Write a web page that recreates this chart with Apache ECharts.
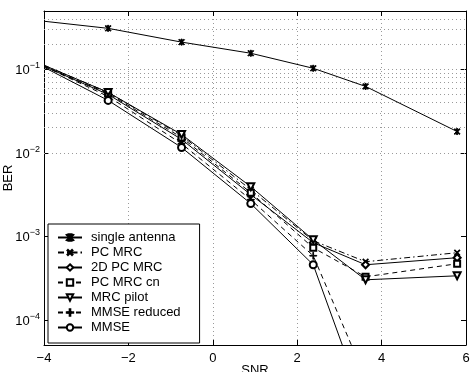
<!DOCTYPE html>
<html><head><meta charset="utf-8">
<script src="https://cdn.jsdelivr.net/npm/echarts@6/dist/echarts.min.js"></script>
<style>html,body{margin:0;padding:0;background:#fff}#c{width:474px;height:372px}</style>
</head><body><div id="c"></div>
<script>
// ---- data ----
const snr = [-4, -2.48, -0.74, 0.90, 2.38, 3.62, 5.79];
const singleAntenna = [0.377, 0.31, 0.212, 0.156, 0.103, 0.0625, 0.018];
const pcMrc = [0.112, 0.053, 0.0161, 0.00363, 8.87e-4, 4.97e-4, 6.37e-4];
const pcMrc2d = [0.1087, 0.0501, 0.0145, 0.00316, 8.4e-4, 4.57e-4, 5.55e-4];
const pcMrcCn = [0.109, 0.0515, 0.0153, 0.00334, 7.3e-4, 3.28e-4, 4.7e-4];
const mrcPilot = [0.112, 0.053, 0.0166, 0.00394, 9.1e-4, 3.02e-4, 3.37e-4];
const mmseReduced = [0.109, 0.0474, 0.0129, 0.00275, 5.86e-4, 2.0e-5, null];
const mmse = [0.106, 0.0425, 0.0116, 0.00247, 4.57e-4, 8.5e-6, null];
const seriesNames = ['single antenna', 'PC MRC', '2D PC MRC', 'PC MRC cn', 'MRC pilot', 'MMSE reduced', 'MMSE'];
const xTicks = [-4, -2, 0, 2, 4, 6];
const yDecades = [-5, -4, -3, -2, -1];
const yMultipliers = [1, 2, 3, 4, 5, 6, 7, 8, 9];

const yMin = 5e-5, yMax = 0.5;
const gridValues = [];
yDecades.forEach(d => yMultipliers.forEach(k => {
  const v = k * Math.pow(10, d);
  if (v > yMin * 1.0001 && v < yMax * 0.9999) gridValues.push(v);
}));

const plusPath = 'path://M-0.4,-4L0.4,-4L0.4,-0.4L4,-0.4L4,0.4L0.4,0.4L0.4,4L-0.4,4L-0.4,0.4L-4,0.4L-4,-0.4L-0.4,-0.4Z';
const starPath = 'path://M-0.5,-4L0.5,-4L0.5,4L-0.5,4Z' +
  'M1.57,3.71L-2.43,-3.21L-1.57,-3.71L2.43,3.21Z' +
  'M-2.43,3.21L1.57,-3.71L2.43,-3.21L-1.57,3.71Z';

const styles = [
  {symbol: starPath, size: 6, rotate: 0, type: 'solid'},
  {symbol: plusPath, size: 7, rotate: 45, type: [6, 3, 1.5, 3]},
  {symbol: 'emptyDiamond', size: 7, rotate: 0, type: 'solid'},
  {symbol: 'emptyRect', size: 6, rotate: 0, type: [5, 4]},
  {symbol: 'emptyTriangle', size: 7, rotate: 180, type: 'solid'},
  {symbol: plusPath, size: 7, rotate: 0, type: [5, 4]},
  {symbol: 'emptyCircle', size: 7, rotate: 0, type: 'solid'}
];
const allValues = [singleAntenna, pcMrc, pcMrc2d, pcMrcCn, mrcPilot, mmseReduced, mmse];

const font = 'Liberation Sans, Arial, Helvetica, sans-serif';
const minus = s => String(s).replace('-', '\u2212');

const series = allValues.map((vals, i) => ({
  name: seriesNames[i],
  type: 'line',
  z: 5,
  symbol: styles[i].symbol,
  symbolSize: styles[i].size,
  symbolRotate: styles[i].rotate,
  showAllSymbol: true,
  lineStyle: {color: '#000', width: 1, type: styles[i].type},
  itemStyle: {color: '#000', borderColor: '#000', borderWidth: 1},
  emphasis: {disabled: true},
  animation: false,
  data: snr.map((x, j) => vals[j] == null ? null :
    (j === 0 ? {value: [x, vals[j]], symbol: 'none'} : [x, vals[j]]))
}));

series.push({
  name: 'grid', type: 'line', data: [], z: 1, silent: true, animation: false,
  markLine: {
    silent: true, symbol: 'none', animation: false,
    label: {show: false},
    lineStyle: {color: '#9a9a9a', type: [1, 3], width: 1},
    data: gridValues.map(v => ({yAxis: v}))
  }
});

const chart = echarts.init(document.getElementById('c'), null, {renderer: 'canvas'});
const commonX = {
  type: 'value', min: -4, max: 6, interval: 2,
  axisLine: {show: true, onZero: false, lineStyle: {color: '#000', width: 1}},
  axisTick: {show: true, inside: true, length: 5, lineStyle: {color: '#000'}},
};
const commonY = {
  type: 'log', logBase: 10, min: yMin, max: yMax,
  axisLine: {show: true, onZero: false, lineStyle: {color: '#000', width: 1}},
  axisTick: {show: true, inside: true, length: 5, lineStyle: {color: '#000'}},
  splitLine: {show: false}
};
chart.setOption({
  animation: false,
  backgroundColor: '#fff',
  grid: {left: 44, right: 8, top: 11, bottom: 27, containLabel: false, outerBoundsMode: 'none'},
  legend: {
    orient: 'vertical', left: 48, top: 224,
    data: seriesNames,
    itemWidth: 24, itemHeight: 8, itemGap: 0,
    padding: [6, 19, 8, 9],
    backgroundColor: '#fff', borderColor: '#000', borderWidth: 1,
    textStyle: {fontFamily: font, fontSize: 13, lineHeight: 15, color: '#000', padding: [0, 0, 0, 4]},
    selectedMode: false
  },
  xAxis: [
    Object.assign({}, commonX, {
      position: 'bottom', name: 'SNR', nameLocation: 'middle', nameGap: 19, nameMoveOverlap: false,
      nameTextStyle: {fontFamily: font, fontSize: 13, color: '#000'},
      axisLabel: {fontFamily: font, fontSize: 13, color: '#000', margin: 7, formatter: v => minus(v)},
      splitLine: {show: true, lineStyle: {color: '#9a9a9a', type: [1, 3], width: 1}}
    }),
    Object.assign({}, commonX, {position: 'top', axisLabel: {show: false}, splitLine: {show: false}})
  ],
  yAxis: [
    Object.assign({}, commonY, {
      position: 'left', name: 'BER', nameLocation: 'middle', nameGap: 29, nameMoveOverlap: false,
      nameTextStyle: {fontFamily: font, fontSize: 13, color: '#000'},
      axisLabel: {
        fontFamily: font, color: '#000', margin: 4,
        formatter: v => {
          const l = Math.log10(v), e = Math.round(l);
          if (Math.abs(l - e) > 1e-6) return '';
          return '{b|10}{s|' + minus(e) + '}';
        },
        rich: {
          b: {fontFamily: font, fontSize: 13, color: '#000', lineHeight: 16, verticalAlign: 'bottom'},
          s: {fontFamily: font, fontSize: 9, color: '#000', lineHeight: 16, verticalAlign: 'top'}
        }
      }
    }),
    Object.assign({}, commonY, {position: 'right', axisLabel: {show: false}})
  ],
  series: series
});
</script></body></html>
